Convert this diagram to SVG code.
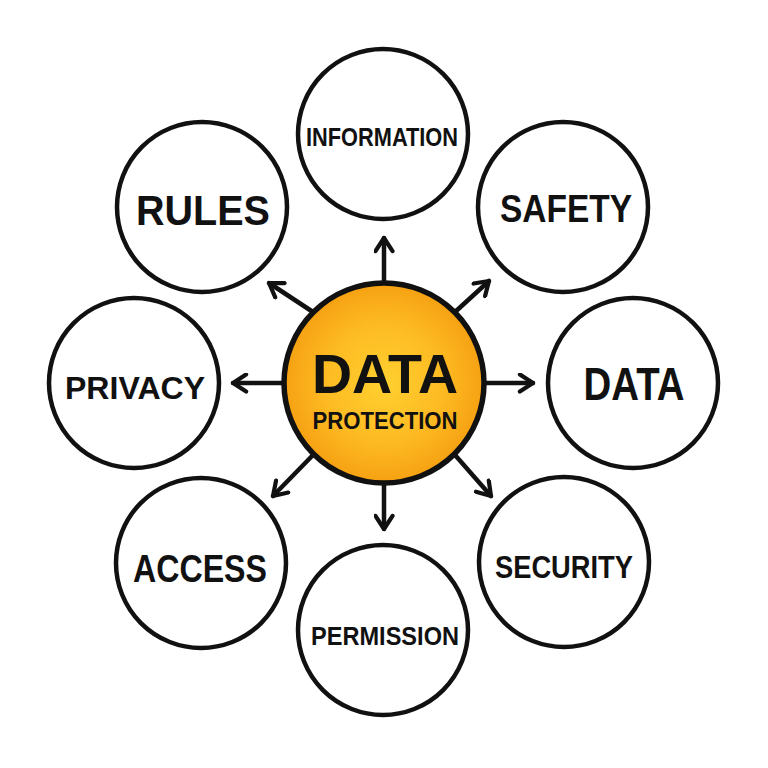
<svg xmlns="http://www.w3.org/2000/svg" width="768" height="768" viewBox="0 0 768 768">
<defs>
<radialGradient id="og" cx="50%" cy="50%" r="50%">
<stop offset="0" stop-color="#FFD030"/>
<stop offset="0.6" stop-color="#FDBA22"/>
<stop offset="1" stop-color="#F6A112"/>
</radialGradient>
<marker id="ah" viewBox="0 0 16 16" refX="13" refY="8" markerWidth="21" markerHeight="21" markerUnits="userSpaceOnUse" orient="auto">
<path d="M3,1.5 L13,8 L3,14.5" fill="none" stroke="#111" stroke-width="3.2" stroke-linecap="round" stroke-linejoin="round"/>
</marker>
<style>
.n{fill:#fff;stroke:#111;stroke-width:4.5}
.t{font-family:"Liberation Sans",Arial,sans-serif;font-weight:bold;fill:#111;text-anchor:middle}
.c line{stroke:#111;stroke-width:4.5;stroke-linecap:round;marker-end:url(#ah)}
</style>
</defs>
<rect width="768" height="768" fill="#fff"/>
<g class="c" id="connectors">
<line x1="384" y1="283" x2="384" y2="238"/>
<line x1="455" y1="312" x2="489" y2="281"/>
<line x1="486" y1="383" x2="533" y2="383"/>
<line x1="455" y1="455" x2="491" y2="496"/>
<line x1="384" y1="484" x2="384" y2="529"/>
<line x1="313" y1="455" x2="273" y2="496"/>
<line x1="282" y1="383" x2="233" y2="383"/>
<line x1="313" y1="312" x2="269" y2="283"/>
</g>
<g id="center">
<circle cx="384" cy="383" r="100" fill="url(#og)" stroke="#111" stroke-width="5.5"/>
<text class="t" x="385" y="393" font-size="56" textLength="146" lengthAdjust="spacingAndGlyphs">DATA</text>
<text class="t" x="385" y="429" font-size="24" textLength="145" lengthAdjust="spacingAndGlyphs">PROTECTION</text>
</g>
<g id="information">
<circle class="n" cx="383" cy="134" r="85"/>
<text class="t" x="382" y="146" font-size="25" textLength="152" lengthAdjust="spacingAndGlyphs">INFORMATION</text>
</g>
<g id="safety">
<circle class="n" cx="563" cy="207" r="85"/>
<text class="t" x="566" y="222" font-size="38" textLength="132" lengthAdjust="spacingAndGlyphs">SAFETY</text>
</g>
<g id="data">
<circle class="n" cx="633" cy="383" r="85"/>
<text class="t" x="634" y="400" font-size="46" textLength="101" lengthAdjust="spacingAndGlyphs">DATA</text>
</g>
<g id="security">
<circle class="n" cx="564" cy="562" r="85"/>
<text class="t" x="564" y="578" font-size="32" textLength="138" lengthAdjust="spacingAndGlyphs">SECURITY</text>
</g>
<g id="permission">
<circle class="n" cx="383" cy="630" r="85"/>
<text class="t" x="385" y="645" font-size="25" textLength="148" lengthAdjust="spacingAndGlyphs">PERMISSION</text>
</g>
<g id="access">
<circle class="n" cx="201" cy="563" r="85"/>
<text class="t" x="200" y="582" font-size="38" textLength="134" lengthAdjust="spacingAndGlyphs">ACCESS</text>
</g>
<g id="privacy">
<circle class="n" cx="134" cy="383" r="85"/>
<text class="t" x="135" y="399" font-size="32" textLength="140" lengthAdjust="spacingAndGlyphs">PRIVACY</text>
</g>
<g id="rules">
<circle class="n" cx="202" cy="207" r="85"/>
<text class="t" x="203" y="225" font-size="42" textLength="134" lengthAdjust="spacingAndGlyphs">RULES</text>
</g>
</svg>
